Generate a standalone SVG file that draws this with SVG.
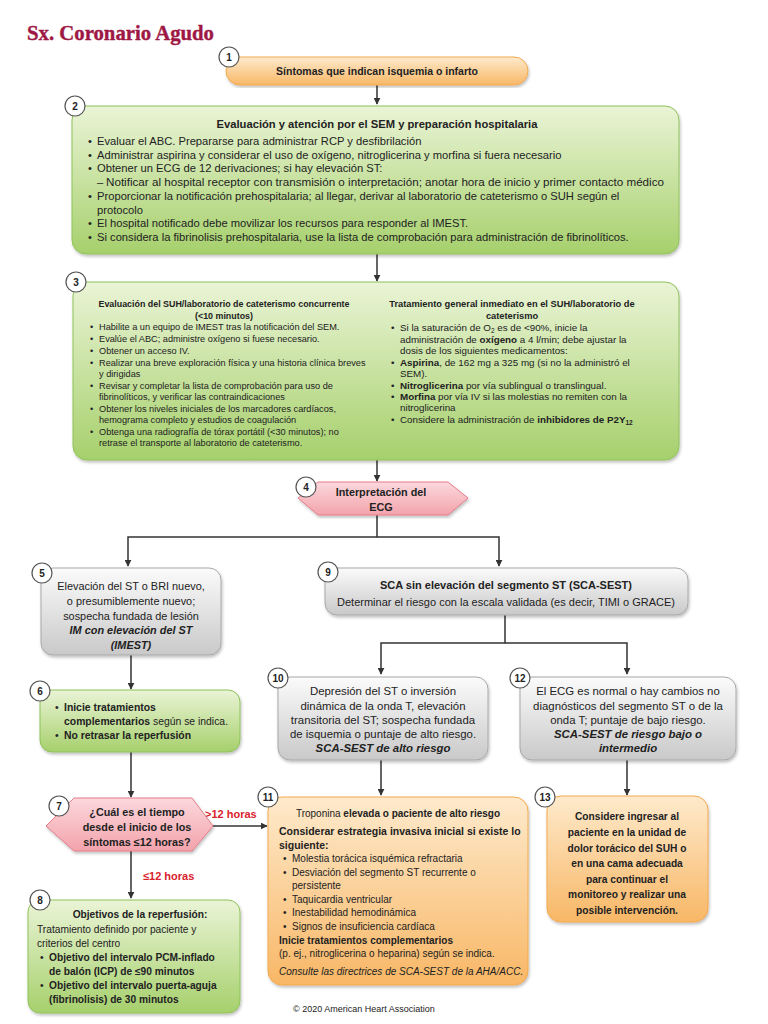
<svg xmlns="http://www.w3.org/2000/svg" width="768" height="1024" viewBox="0 0 768 1024">
<defs>
<linearGradient id="gGreen" x1="0" y1="0" x2="0" y2="1"><stop offset="0" stop-color="#eaf4d6"/><stop offset="1" stop-color="#a6d06c"/></linearGradient>
<linearGradient id="gOrange" x1="0" y1="0" x2="0" y2="1"><stop offset="0" stop-color="#feeacc"/><stop offset="1" stop-color="#f8b766"/></linearGradient>
<linearGradient id="gGray" x1="0" y1="0" x2="0" y2="1"><stop offset="0" stop-color="#fbfbfb"/><stop offset="1" stop-color="#c9c9c9"/></linearGradient>
<linearGradient id="gPink" x1="0" y1="0" x2="0" y2="1"><stop offset="0" stop-color="#fbd8dc"/><stop offset="1" stop-color="#f3a3ac"/></linearGradient>
<filter id="sh" x="-5%" y="-5%" width="110%" height="115%"><feDropShadow dx="1" dy="2" stdDeviation="1.5" flood-color="#000" flood-opacity="0.25"/></filter>
<marker id="ah" viewBox="0 0 10 10" refX="9" refY="5" markerWidth="7" markerHeight="7" orient="auto" markerUnits="userSpaceOnUse"><path d="M0,0 L10,5 L0,10 z" fill="#333"/></marker>
</defs>
<style>
.t{font-family:"Liberation Sans",Arial,sans-serif;fill:#222}
.b{font-weight:bold}
.i{font-style:italic}
.c{text-anchor:middle}
.green{fill:url(#gGreen);stroke:#8fc25a;stroke-width:1}
.orange{fill:url(#gOrange);stroke:#f2a94e;stroke-width:1}
.gray{fill:url(#gGray);stroke:#a8a8a8;stroke-width:1}
.pink{fill:url(#gPink);stroke:#e47d89;stroke-width:1}
.num{fill:#fff;stroke:#555;stroke-width:1.2}
.numt{font-family:"Liberation Sans",Arial,sans-serif;font-weight:bold;font-size:10px;fill:#222;text-anchor:middle}
.ln{fill:none;stroke:#333;stroke-width:1.5}
.red{fill:#d9232e;font-weight:bold}
</style>
<rect width="768" height="1024" fill="#fff"/>
<text x="27" y="40" style="font-family:'Liberation Serif','Times New Roman',serif;font-weight:bold;font-size:22px;fill:#9e1845;stroke:#9e1845;stroke-width:0.4" textLength="187" lengthAdjust="spacingAndGlyphs">Sx. Coronario Agudo</text>

<g id="connectors">
<line class="ln" x1="377" y1="85" x2="377" y2="104" marker-end="url(#ah)"/>
<line class="ln" x1="377" y1="254" x2="377" y2="281" marker-end="url(#ah)"/>
<line x1="376" y1="290" x2="376" y2="460" stroke="#999" stroke-width="1"/>
<line class="ln" x1="377" y1="460" x2="377" y2="481" marker-end="url(#ah)"/>
<polyline class="ln" points="377,515 377,537 128,537 128,566" marker-end="url(#ah)"/>
<polyline class="ln" points="377,537 499,537 499,566" marker-end="url(#ah)"/>
<polyline class="ln" points="505,615 505,643 381,643 381,674" marker-end="url(#ah)"/>
<polyline class="ln" points="505,643 627,643 627,674" marker-end="url(#ah)"/>
<line class="ln" x1="131" y1="655" x2="131" y2="689" marker-end="url(#ah)"/>
<line class="ln" x1="131" y1="752" x2="131" y2="797" marker-end="url(#ah)"/>
<line class="ln" x1="213" y1="826" x2="267" y2="826" marker-end="url(#ah)"/>
<line class="ln" x1="131" y1="850" x2="131" y2="898" marker-end="url(#ah)"/>
<line class="ln" x1="381" y1="760" x2="381" y2="795" marker-end="url(#ah)"/>
<line class="ln" x1="627" y1="760" x2="627" y2="795" marker-end="url(#ah)"/>
<text class="t red" x="205" y="818" font-size="11">&gt;12 horas</text>
<text class="t red" x="143" y="880" font-size="11">≤12 horas</text>
</g>

<g id="node1">
<rect class="orange" x="226" y="57" width="302" height="28" rx="14" filter="url(#sh)"/>
<text class="t b c" x="377" y="75" font-size="10.5">Síntomas que indican isquemia o infarto</text>
<circle class="num" cx="229" cy="57" r="10"/><text class="numt" x="229" y="61">1</text>
</g>

<g id="node2">
<rect class="green" x="72" y="106" width="607" height="148" rx="14" filter="url(#sh)"/>
<text class="t b c" x="377" y="128" font-size="11.2">Evaluación y atención por el SEM y preparación hospitalaria</text>
<g class="t" font-size="11.2">
<text x="88" y="145">•</text><text x="97" y="145">Evaluar el ABC. Prepararse para administrar RCP y desfibrilación</text>
<text x="88" y="159">•</text><text x="97" y="159">Administrar aspirina y considerar el uso de oxígeno, nitroglicerina y morfina si fuera necesario</text>
<text x="88" y="172">•</text><text x="97" y="172">Obtener un ECG de 12 derivaciones; si hay elevación ST:</text>
<text x="97" y="186">–</text><text x="106" y="186" textLength="558" lengthAdjust="spacingAndGlyphs">Notificar al hospital receptor con transmisión o interpretación; anotar hora de inicio y primer contacto médico</text>
<text x="88" y="200">•</text><text x="97" y="200">Proporcionar la notificación prehospitalaria; al llegar, derivar al laboratorio de cateterismo o SUH según el</text>
<text x="97" y="214">protocolo</text>
<text x="88" y="227">•</text><text x="97" y="227">El hospital notificado debe movilizar los recursos para responder al IMEST.</text>
<text x="88" y="241">•</text><text x="97" y="241">Si considera la fibrinolisis prehospitalaria, use la lista de comprobación para administración de fibrinolíticos.</text>
</g>
<circle class="num" cx="75" cy="106" r="10"/><text class="numt" x="75" y="110">2</text>
</g>

<g id="node3">
<rect class="green" x="73" y="282" width="606" height="178" rx="14" filter="url(#sh)"/>
<g class="t" font-size="9.2">
<text class="b c" x="224" y="307" font-size="8.9">Evaluación del SUH/laboratorio de cateterismo concurrente</text>
<text class="b c" x="224" y="319" font-size="8.9">(&lt;10 minutos)</text>
<text x="90" y="330">•</text><text x="99" y="330">Habilite a un equipo de IMEST tras la notificación del SEM.</text>
<text x="90" y="342">•</text><text x="99" y="342">Evalúe el ABC; administre oxígeno si fuese necesario.</text>
<text x="90" y="354">•</text><text x="99" y="354">Obtener un acceso IV.</text>
<text x="90" y="366">•</text><text x="99" y="366">Realizar una breve exploración física y una historia clínica breves</text>
<text x="99" y="377">y dirigidas</text>
<text x="90" y="389">•</text><text x="99" y="389">Revisar y completar la lista de comprobación para uso de</text>
<text x="99" y="400">fibrinolíticos, y verificar las contraindicaciones</text>
<text x="90" y="412">•</text><text x="99" y="412">Obtener los niveles iniciales de los marcadores cardíacos,</text>
<text x="99" y="423">hemograma completo y estudios de coagulación</text>
<text x="90" y="435">•</text><text x="99" y="435">Obtenga una radiografía de tórax portátil (&lt;30 minutos); no</text>
<text x="99" y="446">retrase el transporte al laboratorio de cateterismo.</text>
</g>
<g class="t" font-size="9.8">
<text class="b c" x="512" y="307" font-size="9.3">Tratamiento general inmediato en el SUH/laboratorio de</text>
<text class="b c" x="512" y="319" font-size="9.3">cateterismo</text>
<text x="391" y="331">•</text><text x="400" y="331">Si la saturación de O<tspan font-size="6.5" dy="2">2</tspan><tspan dy="-2"> es de &lt;90%, inicie la</tspan></text>
<text x="400" y="343">administración de <tspan class="b">oxígeno</tspan> a 4 l/min; debe ajustar la</text>
<text x="400" y="354">dosis de los siguientes medicamentos:</text>
<text x="391" y="366">•</text><text x="400" y="366"><tspan class="b">Aspirina</tspan>, de 162 mg a 325 mg (si no la administró el</text>
<text x="400" y="377">SEM).</text>
<text x="391" y="389">•</text><text x="400" y="389"><tspan class="b">Nitroglicerina</tspan> por vía sublingual o translingual.</text>
<text x="391" y="400">•</text><text x="400" y="400"><tspan class="b">Morfina</tspan> por vía IV si las molestias no remiten con la</text>
<text x="400" y="411">nitroglicerina</text>
<text x="391" y="423">•</text><text x="400" y="423">Considere la administración de <tspan class="b">inhibidores de P2Y</tspan><tspan class="b" font-size="6.5" dy="2">12</tspan></text>
</g>
<circle class="num" cx="76" cy="282" r="10"/><text class="numt" x="76" y="286">3</text>
</g>

<g id="node4">
<polygon class="pink" points="298,498 318,482 448,482 468,498 448,515 318,515" filter="url(#sh)"/>
<text class="t b c" x="381" y="496" font-size="10.8">Interpretación del</text>
<text class="t b c" x="381" y="511" font-size="10.8">ECG</text>
<circle class="num" cx="306" cy="487" r="10"/><text class="numt" x="306" y="491">4</text>
</g>

<g id="node5">
<rect class="gray" x="41" y="568" width="180" height="87" rx="12" filter="url(#sh)"/>
<g class="t c" font-size="10.9">
<text x="131" y="590">Elevación del ST o BRI nuevo,</text>
<text x="131" y="605">o presumiblemente nuevo;</text>
<text x="131" y="620">sospecha fundada de lesión</text>
<text class="b i" x="131" y="634">IM con elevación del ST</text>
<text class="b i" x="131" y="649">(IMEST)</text>
</g>
<circle class="num" cx="42" cy="573" r="10"/><text class="numt" x="42" y="577">5</text>
</g>

<g id="node9">
<rect class="gray" x="325" y="568" width="363" height="47" rx="12" filter="url(#sh)"/>
<text class="t b c" x="506" y="589" font-size="11">SCA sin elevación del segmento ST (SCA-SEST)</text>
<text class="t c" x="506" y="606" font-size="11">Determinar el riesgo con la escala validada (es decir, TIMI o GRACE)</text>
<circle class="num" cx="328" cy="572" r="10"/><text class="numt" x="328" y="576">9</text>
</g>

<g id="node10">
<rect class="gray" x="278" y="677" width="210" height="83" rx="12" filter="url(#sh)"/>
<g class="t c" font-size="11.4">
<text x="383" y="695">Depresión del ST o inversión</text>
<text x="383" y="710">dinámica de la onda T, elevación</text>
<text x="383" y="724">transitoria del ST; sospecha fundada</text>
<text x="383" y="738">de isquemia o puntaje de alto riesgo.</text>
<text class="b i" x="383" y="752">SCA-SEST de alto riesgo</text>
</g>
<circle class="num" cx="278" cy="678" r="10"/><text class="numt" x="278" y="682">10</text>
</g>

<g id="node12">
<rect class="gray" x="520" y="677" width="216" height="83" rx="12" filter="url(#sh)"/>
<g class="t c" font-size="11.4">
<text x="628" y="695">El ECG es normal o hay cambios no</text>
<text x="628" y="710">diagnósticos del segmento ST o de la</text>
<text x="628" y="724">onda T; puntaje de bajo riesgo.</text>
<text class="b i" x="628" y="738">SCA-SEST de riesgo bajo o</text>
<text class="b i" x="628" y="752">intermedio</text>
</g>
<circle class="num" cx="520" cy="678" r="10"/><text class="numt" x="520" y="682">12</text>
</g>

<g id="node6">
<rect class="green" x="40" y="690" width="200" height="62" rx="12" filter="url(#sh)"/>
<g class="t" font-size="10.4">
<text x="55" y="711">•</text><text x="64" y="711"><tspan class="b">Inicie tratamientos</tspan></text>
<text x="64" y="725"><tspan class="b">complementarios</tspan> según se indica.</text>
<text x="55" y="739">•</text><text class="b" x="64" y="739">No retrasar la reperfusión</text>
</g>
<circle class="num" cx="40" cy="691" r="10"/><text class="numt" x="40" y="695">6</text>
</g>

<g id="node7">
<polygon class="pink" points="46,826 74,798 192,798 213,826 192,851 74,851" filter="url(#sh)"/>
<g class="t b c" font-size="10.8">
<text x="137" y="816">¿Cuál es el tiempo</text>
<text x="137" y="831">desde el inicio de los</text>
<text x="137" y="846">síntomas ≤12 horas?</text>
</g>
<circle class="num" cx="59" cy="806" r="10"/><text class="numt" x="59" y="810">7</text>
</g>

<g id="node8">
<rect class="green" x="28" y="900" width="212" height="113" rx="12" filter="url(#sh)"/>
<g class="t" font-size="10.2">
<text class="b c" x="140" y="918">Objetivos de la reperfusión:</text>
<text x="37" y="933">Tratamiento definido por paciente y</text>
<text x="37" y="947">criterios del centro</text>
<text x="40" y="961">•</text><text class="b" x="49" y="961">Objetivo del intervalo PCM-inflado</text>
<text class="b" x="49" y="975">de balón (ICP) de ≤90 minutos</text>
<text x="40" y="989">•</text><text class="b" x="49" y="989">Objetivo del intervalo puerta-aguja</text>
<text class="b" x="49" y="1003">(fibrinolisis) de 30 minutos</text>
</g>
<circle class="num" cx="40" cy="900" r="10"/><text class="numt" x="40" y="904">8</text>
</g>

<g id="node11">
<rect class="orange" x="268" y="797" width="260" height="188" rx="14" filter="url(#sh)"/>
<g class="t" font-size="10">
<text class="c" x="398" y="817">Troponina <tspan class="b">elevada o paciente de alto riesgo</tspan></text>
<text class="b" x="279" y="835" font-size="10.5">Considerar estrategia invasiva inicial si existe lo</text>
<text class="b" x="279" y="849" font-size="10.5">siguiente:</text>
<text x="283" y="862">•</text><text x="292" y="862">Molestia torácica isquémica refractaria</text>
<text x="283" y="876">•</text><text x="292" y="876">Desviación del segmento ST recurrente o</text>
<text x="292" y="889">persistente</text>
<text x="283" y="903">•</text><text x="292" y="903">Taquicardia ventricular</text>
<text x="283" y="916">•</text><text x="292" y="916">Inestabilidad hemodinámica</text>
<text x="283" y="930">•</text><text x="292" y="930">Signos de insuficiencia cardíaca</text>
<text class="b" x="279" y="944">Inicie tratamientos complementarios</text>
<text x="279" y="957">(p. ej., nitroglicerina o heparina) según se indica.</text>
<text class="i" x="279" y="975">Consulte las directrices de SCA-SEST de la AHA/ACC.</text>
</g>
<circle class="num" cx="268" cy="797" r="10"/><text class="numt" x="268" y="801">11</text>
</g>

<g id="node13">
<rect class="orange" x="547" y="796" width="161" height="126" rx="14" filter="url(#sh)"/>
<g class="t b c" font-size="10.2">
<text x="627" y="820">Considere ingresar al</text>
<text x="627" y="836">paciente en la unidad de</text>
<text x="627" y="852">dolor torácico del SUH o</text>
<text x="627" y="867">en una cama adecuada</text>
<text x="627" y="883">para continuar el</text>
<text x="627" y="898">monitoreo y realizar una</text>
<text x="627" y="914">posible intervención.</text>
</g>
<circle class="num" cx="545" cy="797" r="10"/><text class="numt" x="545" y="801">13</text>
</g>

<text class="t" x="293" y="1012" font-size="9">© 2020 American Heart Association</text>
</svg>
